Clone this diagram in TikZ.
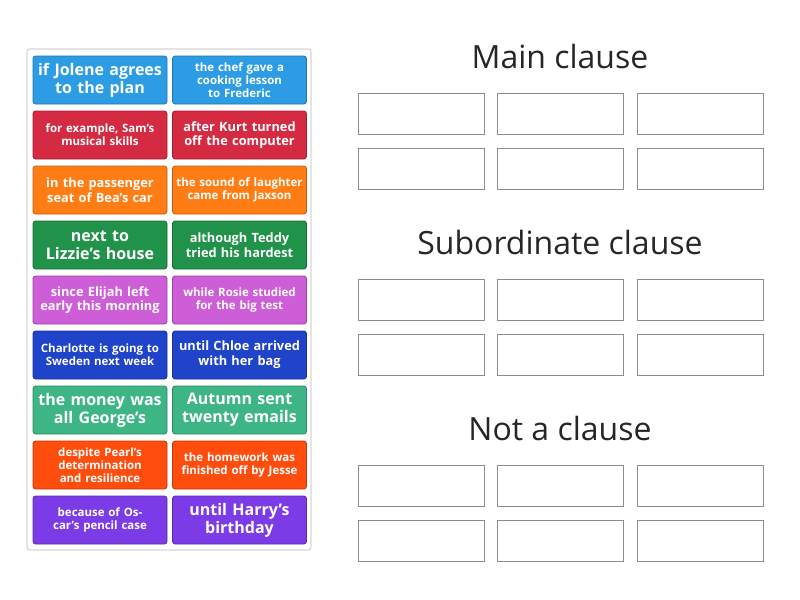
\documentclass[tikz,border=0pt]{standalone}
\usepackage{fontspec}
\setmainfont{Open Sans}
\definecolor{cblue}{HTML}{2C9DE4}
\definecolor{cred}{HTML}{D42A42}
\definecolor{corange}{HTML}{FF7D14}
\definecolor{cgreen}{HTML}{21924A}
\definecolor{cpink}{HTML}{CE5ED8}
\definecolor{cnavy}{HTML}{2044C9}
\definecolor{cteal}{HTML}{3DB585}
\definecolor{cfire}{HTML}{FF4D0D}
\definecolor{cpurple}{HTML}{7B3BE6}
\tikzset{
  card/.style={rectangle, rounded corners=2pt, minimum width=100.5pt, minimum height=36pt,
    text width=96pt, align=center, text=white, font=\bfseries, inner sep=0pt,
    draw=#1!75!black, fill=#1, line width=0.6pt},
  big/.style={font=\bfseries\fontsize{12}{13.5}\selectfont},
  mid/.style={font=\bfseries\fontsize{9.6}{11}\selectfont},
  small/.style={font=\bfseries\fontsize{8.6}{9.6}\selectfont},
  slot/.style={rectangle, draw=black!45, minimum width=94.5pt, minimum height=30.75pt, inner sep=0pt},
  heading/.style={font=\fontsize{24}{28}\selectfont, text=black!85}
}
\begin{document}
\begin{tikzpicture}[x=0.75pt,y=-0.75pt]
\useasboundingbox (0,0) rectangle (800,600);
\draw[black!30, rounded corners=2pt] (27,49) rectangle (311,550);
% cards
\node[card=cblue, big] (c1a) at (100,80) {if Jolene agrees to the plan};
\node[card=cblue, small] (c1b) at (239.5,80) {the chef gave a cooking lesson\\ to Frederic};
\node[card=cred, small] (c2a) at (100,135) {for example, Sam's musical skills};
\node[card=cred, mid] (c2b) at (239.5,135) {after Kurt turned off the computer};
\node[card=corange, mid] (c3a) at (100,190) {in the passenger seat of Bea's car};
\node[card=corange, small] (c3b) at (239.5,190) {the sound of laughter came from Jaxson};
\node[card=cgreen, big] (c4a) at (100,245) {next to\\ Lizzie's house};
\node[card=cgreen, mid] (c4b) at (239.5,245) {although Teddy tried his hardest};
\node[card=cpink, mid] (c5a) at (100,300) {since Elijah left early this morning};
\node[card=cpink, small] (c5b) at (239.5,300) {while Rosie studied for the big test};
\node[card=cnavy, small] (c6a) at (100,355) {Charlotte is going to Sweden next week};
\node[card=cnavy, mid] (c6b) at (239.5,355) {until Chloe arrived with her bag};
\node[card=cteal, big] (c7a) at (100,410) {the money was all George's};
\node[card=cteal, big] (c7b) at (239.5,410) {Autumn sent twenty emails};
\node[card=cfire, small] (c8a) at (100,465) {despite Pearl's determination and resilience};
\node[card=cfire, small] (c8b) at (239.5,465) {the homework was finished off by Jesse};
\node[card=cpurple, small] (c9a) at (100,520) {because of Oscar's pencil case};
\node[card=cpurple, big] (c9b) at (239.5,520) {until Harry's birthday};
% groups
\node[heading] (hmain) at (560,56) {Main clause};
\node[heading] (hsub) at (560,242) {Subordinate clause};
\node[heading] (hnot) at (560,428) {Not a clause};
\foreach \y/\g in {113.5/m, 299.5/s, 485.5/n}{
  \foreach \x/\c in {421/1, 560/2, 700/3}{
    \node[slot] (\g\c a) at (\x,\y) {};
    \node[slot] (\g\c b) at (\x,\y+55) {};
  }
}
\end{tikzpicture}
\end{document}
